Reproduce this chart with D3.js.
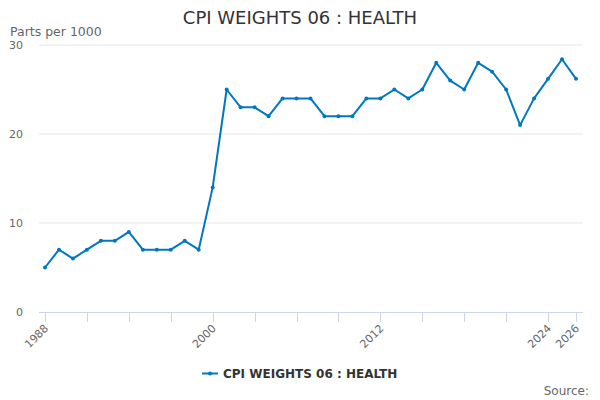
<!DOCTYPE html>
<html>
<head>
<meta charset="utf-8">
<script src="https://cdn.jsdelivr.net/npm/d3@7"></script>
<style>
  body { margin: 0; background: #fff; }
  svg { font-family: "DejaVu Sans", sans-serif; }
</style>
</head>
<body>
<svg id="chart" width="600" height="400"></svg>
<script>
// 資料
const years = d3.range(1988, 2027);
const values = [5, 7, 6, 7, 8, 8, 9, 7, 7, 7, 8, 7, 14, 25, 23, 23, 22, 24, 24, 24,
                22, 22, 22, 24, 24, 25, 24, 25, 28, 26, 25, 28, 27, 25, 21, 24, 26.2, 28.4, 26.2];
const yTicks = [0, 10, 20, 30];
const xTicks = [1988, 1991, 1994, 1997, 2000, 2003, 2006, 2009, 2012, 2015, 2018, 2021, 2024, 2026];
const xLabels = [1988, 2000, 2012, 2024, 2026];
const seriesName = "CPI WEIGHTS 06 : HEALTH";

const svg = d3.select("#chart");
const color = "#0077c0";

const plotLeft = 39, plotRight = 583;
const x = d3.scaleLinear().domain([1988, 2026]).range([45, 576]);
const y = d3.scaleLinear().domain([0, 30]).range([312, 45]);

// 標題
svg.append("text")
    .attr("x", 300).attr("y", 24)
    .attr("text-anchor", "middle")
    .attr("font-size", 18)
    .attr("fill", "#333")
    .text(seriesName);

svg.append("text")
    .attr("x", 10).attr("y", 36)
    .attr("font-size", 12.5)
    .attr("fill", "#666")
    .text("Parts per 1000");

// 格線
svg.selectAll(".grid")
    .data(yTicks.filter(d => d > 0))
    .enter().append("line")
    .attr("x1", plotLeft).attr("x2", plotRight)
    .attr("y1", d => y(d)).attr("y2", d => y(d))
    .attr("stroke", "#e6e6e6");

svg.selectAll(".ylab")
    .data(yTicks)
    .enter().append("text")
    .attr("x", 23).attr("y", d => y(d) + 4)
    .attr("text-anchor", "end")
    .attr("font-size", 11)
    .attr("fill", "#666")
    .text(d => d);

// x 軸
svg.append("line")
    .attr("x1", plotLeft).attr("x2", plotRight)
    .attr("y1", 312.5).attr("y2", 312.5)
    .attr("stroke", "#ccd6eb");

svg.selectAll(".xtick")
    .data(xTicks)
    .enter().append("line")
    .attr("x1", d => Math.round(x(d)) + 0.5).attr("x2", d => Math.round(x(d)) + 0.5)
    .attr("y1", 312).attr("y2", 322)
    .attr("stroke", "#ccd6eb");

svg.selectAll(".xlab")
    .data(xLabels)
    .enter().append("text")
    .attr("transform", d => `translate(${x(d) + 4},${329}) rotate(-45)`)
    .attr("text-anchor", "end")
    .attr("font-size", 11)
    .attr("fill", "#666")
    .text(d => d);

// 折線
const line = d3.line()
    .x((d, i) => x(years[i]))
    .y(d => y(d));

svg.append("path")
    .datum(values)
    .attr("d", line)
    .attr("fill", "none")
    .attr("stroke", color)
    .attr("stroke-width", 2)
    .attr("stroke-linejoin", "round");

svg.selectAll(".pt")
    .data(values)
    .enter().append("circle")
    .attr("cx", (d, i) => x(years[i]))
    .attr("cy", d => y(d))
    .attr("r", 2)
    .attr("fill", color);

// 圖例
const lg = svg.append("g");
lg.append("line")
    .attr("x1", 202).attr("x2", 218)
    .attr("y1", 373.5).attr("y2", 373.5)
    .attr("stroke", color).attr("stroke-width", 2);
lg.append("circle")
    .attr("cx", 210).attr("cy", 373.5).attr("r", 2)
    .attr("fill", color);
lg.append("text")
    .attr("x", 223).attr("y", 378)
    .attr("font-size", 12)
    .attr("font-weight", "bold")
    .attr("fill", "#333")
    .text(seriesName);

svg.append("text")
    .attr("x", 589).attr("y", 395)
    .attr("text-anchor", "end")
    .attr("font-size", 12)
    .attr("fill", "#666")
    .text("Source:");
</script>
</body>
</html>
